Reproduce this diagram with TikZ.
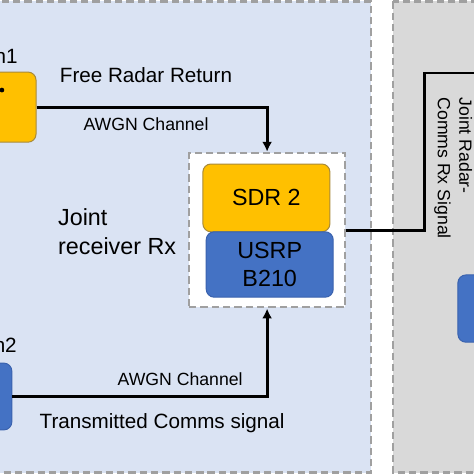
\documentclass[tikz,border=0pt]{standalone}
\usepackage{fontspec}
\setmainfont{Liberation Sans}
\usetikzlibrary{positioning}
\usetikzlibrary{arrows.meta}

\definecolor{panelblue}{HTML}{DAE3F3}
\definecolor{panelgray}{HTML}{D9D9D9}
\definecolor{dashgray}{HTML}{A0A0A0}
\definecolor{boxyellow}{HTML}{FFC000}
\definecolor{yellowedge}{HTML}{A88A3A}
\definecolor{boxblue}{HTML}{4472C4}
\definecolor{blueedge}{HTML}{3A62AE}

\tikzset{
  panel/.style={draw=dashgray, line width=1.6pt, dash pattern=on 4.4pt off 2.4pt},
  ybox/.style={draw=yellowedge, fill=boxyellow, rounded corners=0.17cm, line width=0.6pt, inner sep=0pt, align=center},
  bbox/.style={draw=blueedge, fill=boxblue, rounded corners=0.17cm, line width=0.6pt, inner sep=0pt, align=center},
  sig/.style={line width=1.7pt, -{Latex[length=6pt,width=6pt]}},
  big/.style={font=\fontsize{14}{17}\selectfont},
  mid/.style={font=\fontsize{12.4}{15}\selectfont},
  small/.style={font=\fontsize{10.6}{13}\selectfont}
}

\begin{document}
\begin{tikzpicture}
\useasboundingbox (0,0) rectangle (10,-10);
\clip (0,0) rectangle (10,-10);

%background
\fill[white] (0,0) rectangle (10,-10);

%left panel
\draw[panel, fill=panelblue] (-0.5,-0.03) rectangle (7.83,-9.97);

%right panel
\draw[panel, fill=panelgray] (8.29,-0.03) rectangle (10.6,-9.97);

%radar side
\node[ybox, minimum width=1.96cm, minimum height=1.48cm] (radar) at (-0.22,-2.26) {};
\fill (0.04,-1.9) circle (0.05);
\node[mid, anchor=east, inner sep=0pt] (radarname) at (0.38,-1.2) {n1};

%comms side
\node[bbox, minimum width=1.75cm, minimum height=1.41cm] (comms) at (-0.625,-8.365) {};
\node[mid, anchor=east, inner sep=0pt] (commsname) at (0.36,-7.28) {n2};

%joint receiver
\node[panel, fill=white, minimum width=3.29cm, minimum height=3.25cm] (rx) at (5.635,-4.855) {};
\node[ybox, big, minimum width=2.68cm, minimum height=1.43cm] (sdr) at (5.62,-4.175) {SDR 2};
\node[bbox, big, minimum width=2.68cm, minimum height=1.38cm] (usrp) at (5.69,-5.58) {USRP\\B210};
\node[big, anchor=west, align=left, inner sep=0pt] (rxname) at (1.22,-4.89) {Joint\\receiver Rx};

%processing side
\node[bbox, minimum width=1.84cm, minimum height=1.42cm] (proc) at (10.58,-6.51) {};

%radar return
\draw[sig] (radar.east) -| (rx.north);
\node[mid] (radarlbl) at (3.08,-1.58) {Free Radar Return};
\node[small] (awgn1) at (3.08,-2.62) {AWGN Channel};

%comms signal
\draw[sig] (comms.east) -| (rx.south);
\node[small] (awgn2) at (3.8,-8.0) {AWGN Channel};
\node[mid] (commslbl) at (3.42,-8.92) {Transmitted Comms signal};

%joint rx signal
\coordinate (bend) at (8.95,-1.54);
\coordinate (exit) at (10.4,-1.54);
\draw[line width=1.7pt] (rx.east) -| (bend) -- (exit);
\node[small, rotate=-90, anchor=west, align=left, inner sep=0pt] (jointlbl) at (9.56,-2.05) {Joint Radar-\\Comms Rx Signal};

\end{tikzpicture}
\end{document}
